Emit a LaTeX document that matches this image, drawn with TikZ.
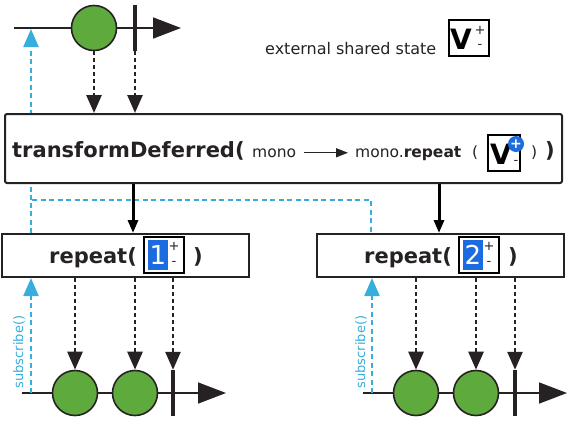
\documentclass[tikz,border=0pt]{standalone}
\usepackage{fontspec}
\setmainfont{DejaVu Sans}
\usetikzlibrary{arrows.meta, positioning}

\definecolor{ink}{RGB}{38,34,35}
\definecolor{marble}{RGB}{94,170,60}
\definecolor{subblue}{RGB}{56,174,220}
\definecolor{stateblue}{RGB}{28,108,224}

\begin{document}
\begin{tikzpicture}[
        x=1pt, y=-1pt,
        timeline/.style={draw=ink, line width=1.7pt, -{Triangle[length=28pt,width=21pt]}},
        marble/.style={circle, draw=ink, fill=marble, line width=1.6pt, minimum size=45pt, inner sep=0pt},
        endbar/.style={rectangle, fill=ink, minimum width=3.5pt, minimum height=46pt, inner sep=0pt},
        emit/.style={draw=ink, line width=2.6pt, dash pattern=on 4pt off 3pt, -{Triangle[length=18pt,width=15pt]}},
        feed/.style={draw=black, line width=3pt, -{Triangle[length=13pt,width=10pt]}},
        subscribe/.style={draw=subblue, line width=2.3pt, dash pattern=on 5pt off 3.5pt},
        sub tip/.style={-{Triangle[length=18pt,width=15pt]}},
        sub label/.style={text=subblue, font=\fontsize{13}{14}\selectfont, inner sep=0pt, rotate=90},
        op box/.style={draw=ink, line width=2pt, fill=white, inner sep=0pt},
        op name/.style={text=ink, font=\fontsize{21}{25}\selectfont\bfseries, inner sep=0pt, anchor=base west},
        plain/.style={text=ink, font=\fontsize{15.5}{18}\selectfont, inner sep=0pt, anchor=base west},
        sign/.style={text=ink, font=\fontsize{13}{13}\selectfont, inner sep=0pt},
        state frame/.style={draw=black, line width=2pt, fill=white, minimum width=40pt, minimum height=36pt, inner sep=0pt},
        counter/.style={fill=stateblue, text=white, minimum width=20pt, minimum height=30pt, inner sep=0pt,
            font=\fontsize{26}{26}\selectfont},
        big v/.style={text=black, font=\fontsize{28}{28}\selectfont\bfseries, inner sep=0pt, anchor=base west}
        ]

        \useasboundingbox (0,0) rectangle (588,421);

        % source
        \coordinate (top_start) at (14,28);
        \coordinate (top_stop)  at (181,28);
        \draw[timeline] (top_start) -- (top_stop);
        \node[marble] (top_m1)  at (94,28)  {};
        \node[endbar] (top_end) at (135,28) {};

        % external state
        \node[plain, font=\fontsize{16}{18}\selectfont] (ext_text) at (265,54) {external shared state};
        \node[state frame] (ext_v) at (469,38) {};
        \node[big v] at (450,49) {V};
        \node[sign] at (480,30) {+};
        \node[sign] at (480,46) {-};

        % resubscription path
        \coordinate (sub_top)   at (31,29);
        \coordinate (sub_fork)  at (31,200);
        \coordinate (sub_right) at (371,200);
        \coordinate (feed1)     at (133,200);
        \coordinate (feed2)     at (439,200);

        \node[op box, minimum width=247pt, minimum height=43pt] (rep1) at (125.5,255.5) {};
        \node[op box, minimum width=247pt, minimum height=43pt] (rep2) at (440.5,255.5) {};

        \draw[subscribe] (rep1.north -| sub_fork) -- (sub_fork) -| (rep2.north -| sub_right);
        \draw[subscribe, sub tip] (sub_fork) -- (sub_top);

        % operator
        \node[op box, rounded corners=2pt, minimum width=557pt, minimum height=69pt] (td) at (283.5,148.5) {};
        \node[op name] (td_name) at (12,157)  {transformDeferred(};
        \node[plain]   (td_mono) at (252,157) {mono};
        \node[plain]   (td_call) at (355,157) {mono.\textbf{repeat}};
        \node[plain]   (td_open) at (472,157) {(};
        \node[state frame, minimum width=32pt] (td_v) at (504,153) {};
        \node[big v] at (490,164) {V};
        \node[circle, fill=stateblue, minimum size=16pt, inner sep=0pt, text=white,
            font=\fontsize{14}{14}\selectfont\bfseries] (td_plus) at (516,144) {+};
        \node[sign] at (516,162) {-};
        \node[plain]   (td_close) at (531,157) {)};
        \node[op name] (td_end)   at (545,157) {)};
        \draw[ink, line width=1.3pt, -{Triangle[length=12pt,width=9pt]}, shorten <=8pt, shorten >=7pt]
            (td_mono.east) -- (td_call.west |- td_mono.east);

        \draw[emit] (top_m1.south)  -- (top_m1.south |- td.north);
        \draw[emit] (top_end.south) -- (top_end.south |- td.north);

        \draw[feed] (td.south -| feed1) -- (rep1.north -| feed1);
        \draw[feed] (td.south -| feed2) -- (rep2.north -| feed2);

        % first repeat
        \node[op name] (rep1_name) at (49,263) {repeat(};
        \node[state frame] (rep1_state) at (164,255) {};
        \node[counter] (rep1_count) at (158,255) {1};
        \node[sign] at (174,246) {+};
        \node[sign] at (174,263) {-};
        \node[op name] (rep1_close) at (193,263) {)};

        % second repeat
        \node[op name] (rep2_name) at (364,263) {repeat(};
        \node[state frame] (rep2_state) at (479,255) {};
        \node[counter] (rep2_count) at (473,255) {2};
        \node[sign] at (489,246) {+};
        \node[sign] at (489,263) {-};
        \node[op name] (rep2_close) at (508,263) {)};

        % first output
        \coordinate (l_start) at (22,393);
        \coordinate (l_stop)  at (226,393);
        \coordinate (l_sub)   at (31,393);
        \draw[timeline] (l_start) -- (l_stop);
        \node[marble] (l_m1)  at (75,393)  {};
        \node[marble] (l_m2)  at (135,393) {};
        \node[endbar] (l_end) at (173,393) {};
        \draw[subscribe, sub tip] (l_sub) -- (l_sub |- rep1.south);
        \node[sub label] (l_sub_text) at (19,352) {subscribe()};

        \draw[emit] (rep1.south -| l_m1)  -- (l_m1.north);
        \draw[emit] (rep1.south -| l_m2)  -- (l_m2.north);
        \draw[emit] (rep1.south -| l_end) -- (l_end.north);

        % second output
        \coordinate (r_start) at (363,393);
        \coordinate (r_stop)  at (567,393);
        \coordinate (r_sub)   at (372,393);
        \draw[timeline] (r_start) -- (r_stop);
        \node[marble] (r_m1)  at (416,393) {};
        \node[marble] (r_m2)  at (476,393) {};
        \node[endbar] (r_end) at (515,393) {};
        \draw[subscribe, sub tip] (r_sub) -- (r_sub |- rep2.south);
        \node[sub label] (r_sub_text) at (361,352) {subscribe()};

        \draw[emit] (rep2.south -| r_m1)  -- (r_m1.north);
        \draw[emit] (rep2.south -| r_m2)  -- (r_m2.north);
        \draw[emit] (rep2.south -| r_end) -- (r_end.north);
      \end{tikzpicture}
\end{document}
